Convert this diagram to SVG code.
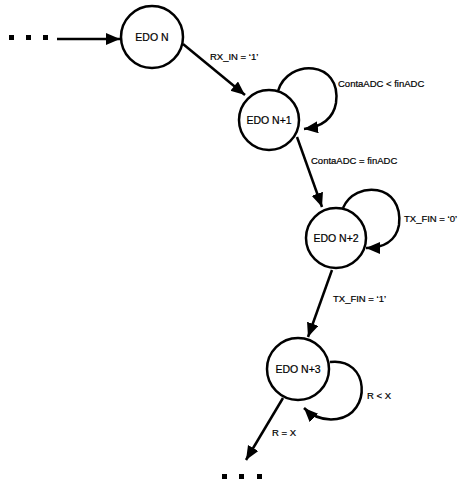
<svg xmlns="http://www.w3.org/2000/svg" width="474" height="499" viewBox="0 0 474 499">
<style>
.node circle{fill:#fff;stroke:#000;stroke-width:2.5}
.node text{font-family:"Liberation Sans",Arial,sans-serif;font-size:10.5px;text-anchor:middle;dominant-baseline:central;fill:#000;stroke:#000;stroke-width:0.2}
.edge{fill:none;stroke:#000;stroke-width:2.5;marker-end:url(#ah)}
.lbl{font-family:"Liberation Sans",Arial,sans-serif;font-size:9.5px;fill:#000;dominant-baseline:central;stroke:#000;stroke-width:0.2}
.dot{fill:#000}
</style>
<defs>
<marker id="ah" markerUnits="userSpaceOnUse" markerWidth="16" markerHeight="14" refX="14" refY="6" orient="auto">
<path d="M0,0 L14,6 L0,12 z" fill="#000"/>
</marker>
</defs>
<rect width="474" height="499" fill="#fff"/>
<g id="connectors">
<path class="edge" d="M57,39 L120,39"/>
<path class="edge" d="M183,44 L245,95"/>
<path class="edge" d="M278,91 C288,58 342,60 336,103 C333,120 320,127 304,129"/>
<path class="edge" d="M297,137 L322,207"/>
<path class="edge" d="M343,208 C355,180 404,183 399,225 C396,242 382,248 366,248"/>
<path class="edge" d="M332,270 L308,337"/>
<path class="edge" d="M330,362 C370,357 372,414 337,419 C322,421 312,416 304,408"/>
<path class="edge" d="M283,398 L246,460"/>
</g>
<g id="labels">
<text class="lbl" x="210" y="56">RX_IN = ‘1’</text>
<text class="lbl" x="338" y="83">ContaADC &lt; finADC</text>
<text class="lbl" x="311" y="160">ContaADC = finADC</text>
<text class="lbl" x="404" y="218">TX_FIN = ‘0’</text>
<text class="lbl" x="333" y="298">TX_FIN = ‘1’</text>
<text class="lbl" x="367" y="395">R &lt; X</text>
<text class="lbl" x="272" y="432">R = X</text>
</g>
<g id="dots-start">
<rect class="dot" x="9" y="35" width="5" height="5"/>
<rect class="dot" x="26" y="35" width="5" height="5"/>
<rect class="dot" x="43" y="35" width="5" height="5"/>
</g>
<g id="dots-end">
<rect class="dot" x="222" y="474" width="5" height="5"/>
<rect class="dot" x="239" y="474" width="5" height="5"/>
<rect class="dot" x="257" y="474" width="5" height="5"/>
</g>
<g id="edo-n" class="node"><circle cx="152" cy="37" r="31"/><text x="152" y="37">EDO N</text></g>
<g id="edo-n1" class="node"><circle cx="269" cy="120" r="30"/><text x="269" y="120">EDO N+1</text></g>
<g id="edo-n2" class="node"><circle cx="336" cy="238" r="30"/><text x="336" y="238">EDO N+2</text></g>
<g id="edo-n3" class="node"><circle cx="298" cy="369" r="31"/><text x="298" y="369">EDO N+3</text></g>
</svg>
